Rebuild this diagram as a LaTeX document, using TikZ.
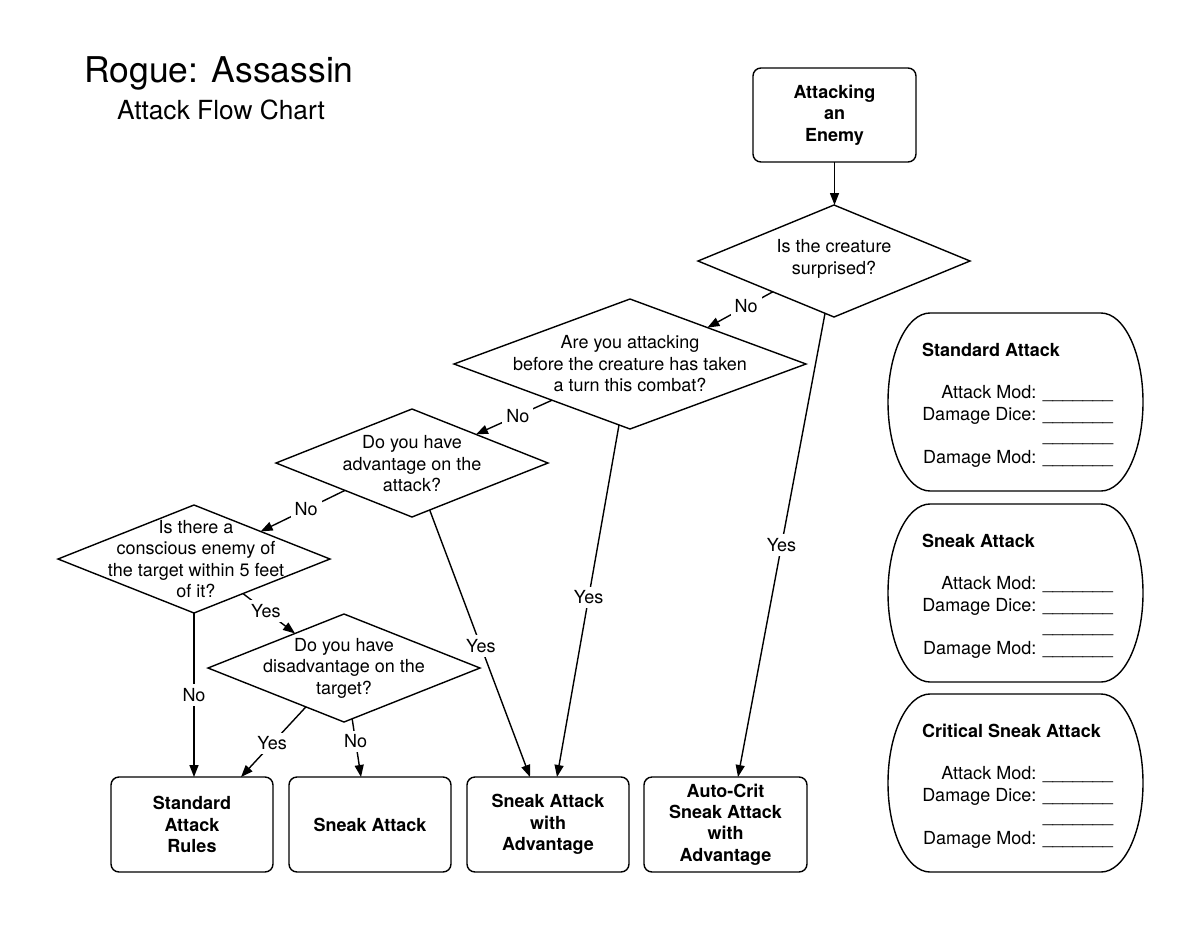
\documentclass[tikz,border=0pt]{standalone}
\usepackage{fontspec}
\setmainfont{TeX Gyre Heros}
\usetikzlibrary{shapes.geometric,arrows.meta,calc}
\begin{document}
\begin{tikzpicture}[x=1pt,y=-1pt,
  every node/.style={inner sep=0pt, outer sep=0pt},
  reg/.style={font=\fontsize{18}{21.5}\selectfont, align=center},
  bld/.style={font=\bfseries\fontsize{18}{21.3}\selectfont, align=center},
  dia/.style={diamond, draw, line width=1.4pt, minimum width=272pt, minimum height=108pt},
  box/.style={draw, rounded corners=8pt, line width=1.4pt, minimum width=162pt, minimum height=95pt},
  arr/.style={line width=1.4pt, -{Triangle[length=12pt,width=9pt]}},
  lbl/.style={fill=white, inner sep=4pt, font=\fontsize{18}{21}\selectfont},
  ln/.style={line width=1.4pt}
]
\useasboundingbox (0,0) rectangle (1200,927);

% titles
\node[font=\fontsize{35.5}{40}\selectfont, anchor=base] (title) at (219,82.7) {Rogue: Assassin};
\node[font=\fontsize{26.3}{30}\selectfont, anchor=base] (subtitle) at (221,119.3) {Attack Flow Chart};

% start box
\node[box, bld, minimum width=163pt, minimum height=94pt] (start) at (834.5,115) {Attacking\\an\\Enemy};

% diamonds
\node[dia, minimum height=112pt] (d1) at (834,261) {};
\node[reg] (t1) at (834,259) {Is the creature\\surprised?};
\node[dia, minimum width=352pt, minimum height=130pt] (d2) at (630,364) {};
\node[reg] (t2) at (630,364) {Are you attacking\\before the creature has taken\\a turn this combat?};
\node[dia] (d3) at (412,463) {};
\node[reg] (t3) at (412,464) {Do you have\\advantage on the\\attack?};
\node[dia] (d4) at (194,559) {};
\node[reg] (t4) at (196,559) {Is there a\\conscious enemy of\\the target within 5 feet\\of it?};
\node[dia] (d5) at (344,668) {};
\node[reg] (t5) at (344,668) {Do you have\\disadvantage on the\\target?};

% bottom boxes
\node[box, bld] (b1) at (192,824.5) {Standard\\Attack\\Rules};
\node[box, bld] (b2) at (370,824.5) {Sneak Attack};
\node[box, bld] (b3) at (548,824.5) {Sneak Attack\\with\\Advantage};
\node[box, bld, minimum width=163pt] (b4) at (725.5,824.5) {Auto-Crit\\Sneak Attack\\with\\Advantage};

% connectors
\draw[arr] (start.south) -- (start.south |- d1.north);
\draw[arr] ($(d1.west)!0.55!(d1.south)$) -- node[lbl,pos=0.41]{No} ($(d2.north)!0.44!(d2.east)$);
\draw[arr] ($(d2.west)!0.557!(d2.south)$) -- node[lbl,pos=0.45]{No} ($(d3.north)!0.47!(d3.east)$);
\draw[arr] ($(d3.west)!0.507!(d3.south)$) -- node[lbl,pos=0.46]{No} ($(d4.north)!0.49!(d4.east)$);
\draw[arr] ($(d4.south)!0.36!(d4.east)$) -- node[lbl,pos=0.44]{Yes} ($(d5.north)!0.36!(d5.west)$);
\draw[arr] (d4.south) -- node[lbl]{No} (d4.south |- b1.north);
\draw[arr] ($(d5.west)!0.72!(d5.south)$) -- node[lbl,pos=0.52]{Yes} ($(b1.north)+(49,0)$);
\draw[arr] ($(d5.south)!0.06!(d5.east)$) -- node[lbl,pos=0.39]{No} ($(b2.north)+(-9,0)$);
\draw[arr] ($(d3.south)!0.13!(d3.east)$) -- node[lbl,pos=0.51]{Yes} ($(b3.north)+(-18,0)$);
\draw[arr] ($(d2.south)!0.0625!(d2.west)$) -- node[lbl,pos=0.49]{Yes} ($(b3.north)+(9,0)$);
\draw[arr] ($(d1.south)!0.066!(d1.west)$) -- node[lbl,pos=0.5]{Yes} ($(b4.north)+(12.5,0)$);

% side boxes
\foreach \T/\name in {313/Standard Attack, 504/Sneak Attack, 694/Critical Sneak Attack} {
  \draw[ln] (930,\T) -- (1101,\T)
    .. controls (1124.2,\T) and (1143,\T+40) .. (1143,\T+89)
    .. controls (1143,\T+138) and (1124.2,\T+178) .. (1101,\T+178)
    -- (930,\T+178)
    .. controls (906.8,\T+178) and (888,\T+138) .. (888,\T+89)
    .. controls (888,\T+40) and (906.8,\T) .. (930,\T) -- cycle;
  \node[bld, anchor=base west] (hd\T) at (922,\T+43.5) {\name};
  \node[reg, anchor=base east] (am\T) at (1113,\T+85.5) {Attack Mod: \_\_\_\_\_\_\_};
  \node[reg, anchor=base east] (dd\T) at (1113,\T+107) {Damage Dice: \_\_\_\_\_\_\_};
  \node[reg, anchor=base east] (ex\T) at (1113,\T+128.7) {\_\_\_\_\_\_\_};
  \node[reg, anchor=base east] (dm\T) at (1113,\T+150.3) {Damage Mod: \_\_\_\_\_\_\_};
}
\end{tikzpicture}
\end{document}
